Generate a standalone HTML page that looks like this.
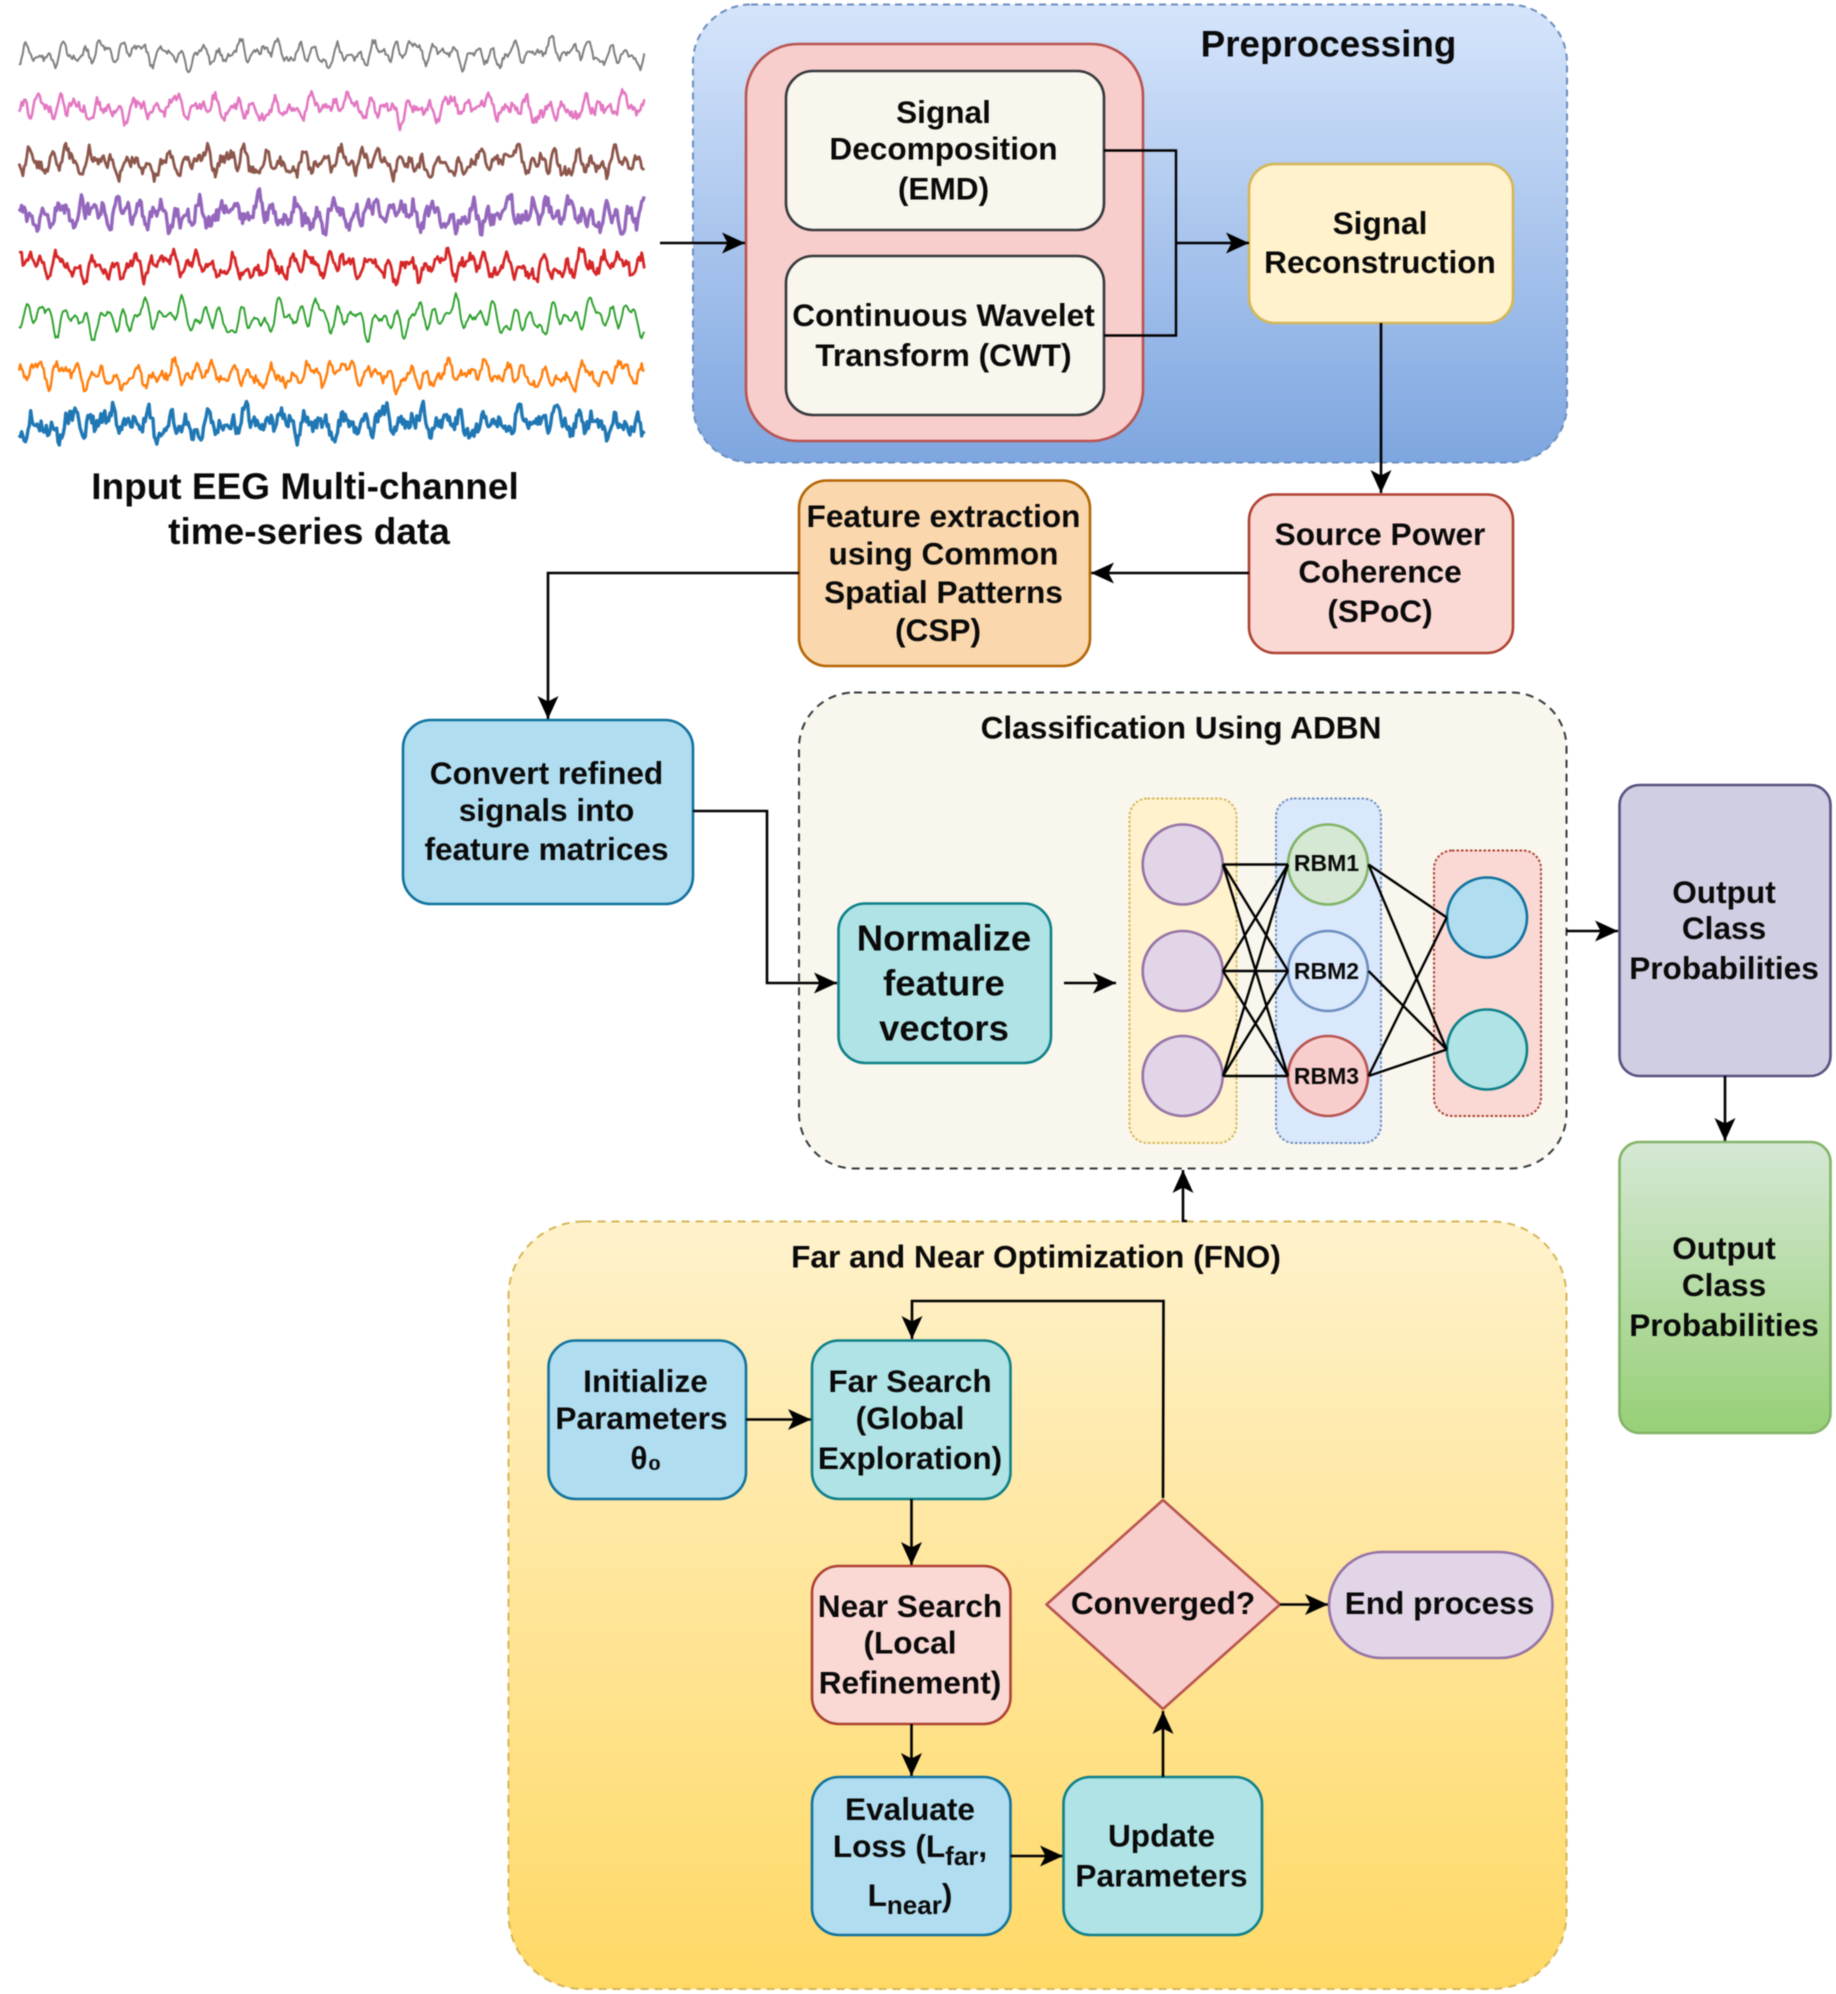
<!DOCTYPE html>
<html>
<head>
<meta charset="utf-8">
<style>
html,body{margin:0;padding:0;background:#fff;width:1836px;height:1994px;overflow:hidden}
svg{display:block;filter:blur(.5px)}
text{font-family:"Liberation Sans",Arial,sans-serif;font-weight:bold;fill:#0a0a0a;text-anchor:middle;font-size:31.6px}
.l{fill:none;stroke:#000;stroke-width:2.6;marker-end:url(#a)}
.n{fill:none;stroke:#000;stroke-width:2.4}
.b{stroke-width:2.6}
</style>
</head>
<body>
<svg id="s" xmlns="http://www.w3.org/2000/svg" width="1836" height="1994" viewBox="0 0 1836 1994">
<defs>
<marker id="a" markerUnits="userSpaceOnUse" markerWidth="26" markerHeight="24" refX="24" refY="12" orient="auto">
<path d="M24,12 L1,1.5 L6.5,12 L1,22.5 Z" fill="#000"/>
</marker>
<linearGradient id="gp" x1="0" y1="0" x2="0" y2="1"><stop offset="0" stop-color="#d6e5fb"/><stop offset="1" stop-color="#7ea6e0"/></linearGradient>
<linearGradient id="gg" x1="0" y1="0" x2="0" y2="1"><stop offset="0" stop-color="#d5e8d4"/><stop offset="1" stop-color="#97d077"/></linearGradient>
<linearGradient id="gf" x1="0" y1="0" x2="0" y2="1"><stop offset="0" stop-color="#fff2cc"/><stop offset="1" stop-color="#ffd966"/></linearGradient>
</defs>

<g id="waves"></g>

<text x="305" y="499" style="font-size:37px">Input EEG Multi-channel</text>
<text x="309" y="544" style="font-size:37px">time-series data</text>

<!-- Preprocessing -->
<rect x="693" y="4.5" width="874" height="458" rx="58" fill="url(#gp)" stroke="#6c8ebf" stroke-width="2" stroke-dasharray="7 5"/>
<text x="1328.5" y="56.5" style="font-size:36.8px">Preprocessing</text>
<rect class="b" x="746" y="44" width="397" height="397" rx="52" fill="#f8cecc" stroke="#b85450"/>
<rect class="b" x="786" y="71" width="318" height="159" rx="27" fill="#f9f7ed" stroke="#36393d"/>
<text x="943.5" y="123">Signal</text>
<text x="943.5" y="159.5">Decomposition</text>
<text x="943.5" y="199.5">(EMD)</text>
<rect class="b" x="786" y="256" width="318" height="159" rx="27" fill="#f9f7ed" stroke="#36393d"/>
<text x="943.5" y="326">Continuous Wavelet</text>
<text x="943.5" y="366">Transform (CWT)</text>
<rect class="b" x="1249" y="164" width="264" height="159" rx="26" fill="#fff2cc" stroke="#d6b656"/>
<text x="1380" y="234">Signal</text>
<text x="1380" y="273">Reconstruction</text>

<path class="n" d="M1104,150.5 H1176 V335.5 H1104"/>
<path class="l" d="M1176,243 H1249"/>
<path class="l" d="M660,243 H745"/>
<path class="l" d="M1381,323 V493"/>

<!-- SPoC -->
<rect class="b" x="1249" y="494.5" width="264" height="158.5" rx="26" fill="#fad9d5" stroke="#ae4132"/>
<text x="1380" y="545">Source Power</text>
<text x="1380" y="582.5">Coherence</text>
<text x="1380" y="622">(SPoC)</text>
<path class="l" d="M1249,573 H1091"/>

<!-- CSP -->
<rect class="b" x="799" y="480.5" width="291" height="185.5" rx="28" fill="#fad7ac" stroke="#b46504"/>
<text x="943.5" y="527">Feature extraction</text>
<text x="943.5" y="564.5">using Common</text>
<text x="943.5" y="603">Spatial Patterns</text>
<text x="938" y="641">(CSP)</text>
<path class="l" d="M799,573 H548 V719"/>

<!-- Convert -->
<rect class="b" x="403" y="720" width="290" height="184" rx="28" fill="#b1ddf0" stroke="#10739e"/>
<text x="546.5" y="784">Convert refined</text>
<text x="546.5" y="821">signals into</text>
<text x="546.5" y="860">feature matrices</text>

<!-- ADBN -->
<rect x="799" y="692.5" width="767.5" height="476" rx="55" fill="#f9f7ed" stroke="#36393d" stroke-width="2" stroke-dasharray="8 6"/>
<text x="1181" y="738.5">Classification Using ADBN</text>
<path class="l" d="M693,811 H767 V983 H837"/>
<rect class="b" x="838.5" y="903.5" width="212.5" height="159.5" rx="27" fill="#b0e3e6" stroke="#0e8088"/>
<text x="944" y="950.5" style="font-size:36.5px">Normalize</text>
<text x="944" y="995.5" style="font-size:36.5px">feature</text>
<text x="944" y="1040.5" style="font-size:36.5px">vectors</text>
<path class="l" d="M1064,983 H1116"/>

<rect x="1129.5" y="798.5" width="107" height="344.5" rx="18" fill="#fff2cc" stroke="#d6b656" stroke-width="2" stroke-dasharray="2.5 2"/>
<rect x="1276" y="798.5" width="105" height="344.5" rx="18" fill="#dae8fc" stroke="#6c8ebf" stroke-width="2" stroke-dasharray="2.5 2"/>
<rect x="1434" y="850.5" width="107" height="265.5" rx="18" fill="#fad9d5" stroke="#ae4132" stroke-width="2" stroke-dasharray="2.5 2"/>

<ellipse class="b" cx="1182.7" cy="864.5" rx="40" ry="40" fill="#e1d5e7" stroke="#9673a6"/>
<ellipse class="b" cx="1182.7" cy="971" rx="40" ry="40" fill="#e1d5e7" stroke="#9673a6"/>
<ellipse class="b" cx="1182.7" cy="1076" rx="40" ry="40" fill="#e1d5e7" stroke="#9673a6"/>
<ellipse class="b" cx="1328" cy="864.5" rx="40" ry="40" fill="#d5e8d4" stroke="#82b366"/>
<ellipse class="b" cx="1328" cy="971" rx="40" ry="40" fill="#dae8fc" stroke="#6c8ebf"/>
<ellipse class="b" cx="1328" cy="1076" rx="40" ry="40" fill="#f8cecc" stroke="#b85450"/>
<ellipse class="b" cx="1487" cy="917.5" rx="40" ry="40" fill="#b1ddf0" stroke="#10739e"/>
<ellipse class="b" cx="1487" cy="1049.5" rx="40" ry="40" fill="#b0e3e6" stroke="#0e8088"/>

<path class="n" d="M1223,864.5 H1288 M1223,864.5 L1288,971 M1223,864.5 L1288,1076 M1223,971 L1288,864.5 M1223,971 H1288 M1223,971 L1288,1076 M1223,1076 L1288,864.5 M1223,1076 L1288,971 M1223,1076 H1288"/>
<path class="n" d="M1368.5,864.5 L1446.7,917.5 M1368.5,864.5 L1446.7,1049.5 M1368.5,971 L1446.7,1049.5 M1368.5,1076 L1446.7,917.5 M1368.5,1076 L1446.7,1049.5"/>

<text x="1326.5" y="871" style="font-size:23px">RBM1</text>
<text x="1326.5" y="979" style="font-size:23px">RBM2</text>
<text x="1326.5" y="1084" style="font-size:23px">RBM3</text>

<path class="l" d="M1566.5,931 H1618"/>

<!-- Output -->
<rect class="b" x="1619.5" y="785" width="211" height="291" rx="20" fill="#d0cee2" stroke="#56517e"/>
<text x="1724" y="903">Output</text>
<text x="1724" y="939">Class</text>
<text x="1724" y="979">Probabilities</text>
<path class="l" d="M1725,1076 V1141"/>
<rect class="b" x="1619.5" y="1142" width="211" height="291" rx="20" fill="url(#gg)" stroke="#82b366"/>
<text x="1724" y="1259">Output</text>
<text x="1724" y="1296">Class</text>
<text x="1724" y="1336">Probabilities</text>

<!-- FNO -->
<rect x="508.5" y="1221.5" width="1058" height="767.5" rx="75" fill="url(#gf)" stroke="#d6b656" stroke-width="2" stroke-dasharray="8 6"/>
<path class="l" d="M1187,1221 H1183 V1170" />
<text x="1036" y="1267.5">Far and Near Optimization (FNO)</text>

<rect class="b" x="548.5" y="1340.5" width="197.5" height="158.5" rx="27" fill="#b1ddf0" stroke="#10739e"/>
<text x="645.5" y="1392">Initialize</text>
<text x="641.5" y="1429">Parameters</text>
<text x="646" y="1469">θ₀</text>
<path class="l" d="M746,1419.5 H811"/>

<rect class="b" x="812" y="1340.5" width="198.5" height="158.5" rx="27" fill="#b0e3e6" stroke="#0e8088"/>
<text x="910" y="1392">Far Search</text>
<text x="910" y="1429">(Global</text>
<text x="910" y="1469">Exploration)</text>
<path class="l" d="M911.5,1499 V1565"/>

<rect class="b" x="812" y="1566" width="198.5" height="158" rx="27" fill="#fad9d5" stroke="#ae4132"/>
<text x="910" y="1617">Near Search</text>
<text x="910" y="1653.5">(Local</text>
<text x="910" y="1693.5">Refinement)</text>
<path class="l" d="M911.5,1724 V1776"/>

<rect class="b" x="812" y="1777" width="198.5" height="158" rx="27" fill="#b1ddf0" stroke="#10739e"/>
<text x="910" y="1820">Evaluate</text>
<text x="910" y="1857">Loss (L<tspan dy="8" style="font-size:26px">far</tspan><tspan dy="-8">,</tspan></text>
<text x="910" y="1906">L<tspan dy="8" style="font-size:26px">near</tspan><tspan dy="-8">)</tspan></text>
<path class="l" d="M1010.5,1856 H1063"/>

<rect class="b" x="1063.5" y="1777" width="198.5" height="158" rx="27" fill="#b0e3e6" stroke="#0e8088"/>
<text x="1161.5" y="1846.5">Update</text>
<text x="1161.5" y="1886.5">Parameters</text>
<path class="l" d="M1163,1777 V1711"/>

<path d="M1163,1500 L1280,1604.5 L1163,1709 L1046.5,1604.5 Z" fill="#f8cecc" stroke="#b85450" stroke-width="2.6" stroke-linejoin="round"/>
<text x="1163" y="1614">Converged?</text>
<path class="l" d="M1280,1604.5 H1328"/>
<path class="l" d="M1163,1498 L1163.5,1301 H912 V1339"/>

<rect class="b" x="1329" y="1552" width="223.5" height="106" rx="53" fill="#e1d5e7" stroke="#9673a6"/>
<text x="1439.5" y="1614">End process</text>
</svg>
<script>
(function(){
var g=document.getElementById('waves');
var cfg=[
['#7f7f7f',53.5,2,11,3,.55],
['#e377c2',108,2.5,11,7,.85],
['#8c564b',162.5,2.8,12,13,.9],
['#9467bd',214,3.4,13,19,1.2],
['#d62728',266,2.8,12,23,.9],
['#2ca02c',318,1.9,15,31,.3],
['#ff7f0e',375,2.4,12,37,.7],
['#1f77b4',423,3.4,12,41,1.2]];
function rng(s){return function(){s=(s*1664525+1013904223)>>>0;return s/4294967296;};}
cfg.forEach(function(c){
var r=rng(c[4]*7919);
var p1=r()*6,p2=r()*6,p3=r()*6,p4=r()*6;
var d='',prev=0;
for(var x=19;x<=645;x+=1.3){
var t=x-19;
var v=0.5*Math.sin(t/3.1+p1)+0.42*Math.sin(t/1.9+p2)+0.42*Math.sin(t/5.5+p3)+0.3*Math.sin(t/23+p4);
var n=(r()-0.5)*c[5];
prev=prev*0.2+n;
v=(v+prev);
var y=c[1]+v*c[3]*1.0;
d+=(d?'L':'M')+x.toFixed(1)+' '+y.toFixed(1);
}
var e=document.createElementNS('http://www.w3.org/2000/svg','path');
e.setAttribute('d',d);e.setAttribute('fill','none');e.setAttribute('stroke',c[0]);
e.setAttribute('stroke-width',c[2]);e.setAttribute('stroke-linejoin','round');
g.appendChild(e);
});
})();
</script>
</body>
</html>
